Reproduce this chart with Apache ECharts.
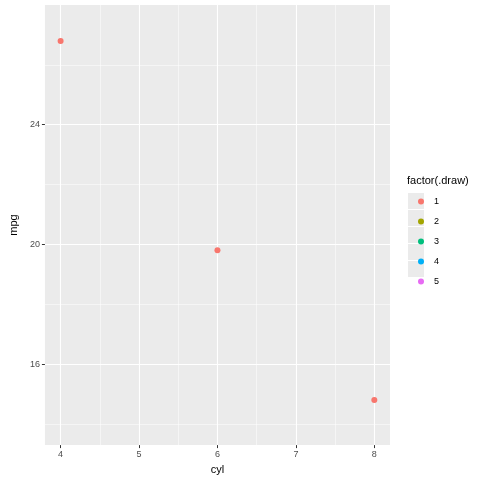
<!DOCTYPE html>
<html><head><meta charset="utf-8">
<script src="https://cdn.jsdelivr.net/npm/echarts@6/dist/echarts.min.js"></script>
<style>html,body{margin:0;background:#fff}#c{width:480px;height:480px}</style>
</head><body><div id="c"></div>
<script>
var cyl = [4, 6, 8];
var mpg = [26.8, 19.8, 14.8];
var draws = ['1', '2', '3', '4', '5'];
var colors = ['#F8766D', '#A3A500', '#00BF7D', '#00B0F6', '#E76BF3'];
var xTicks = [4, 5, 6, 7, 8];
var xMinor = [4.5, 5.5, 6.5, 7.5];
var yTicks = [16, 20, 24];
var yMinor = [14, 18, 22, 26];

var myChart = echarts.init(document.getElementById('c'));
var series = [];
for (var i = 0; i < draws.length; i++) {
    var d = [];
    if (i == 0) {
        for (var k = 0; k < cyl.length; k++) d.push([cyl[k], mpg[k]]);
    }
    series.push({name: draws[i], type: 'scatter', data: d, symbolSize: 6,
        itemStyle: {color: colors[i], opacity: 1}, xAxisIndex: 1, yAxisIndex: 1});
}
var keys = [];
for (var j = 0; j < draws.length; j++) {
    keys.push({type: 'rect', left: 408, top: 193 + j * 17,
        shape: {width: 16, height: 16}, style: {fill: '#EBEBEB'}, z: 0});
}
keys.push({type: 'text', left: 407, top: 175,
    style: {text: 'factor(.draw)', fontSize: 11, fill: '#000', fontFamily: 'Liberation Sans'}});

function xAx(vals, w, show) {
    return {type: 'value', min: 3.8, max: 8.2, gridIndex: 0, position: 'bottom',
        axisLine: {show: false},
        axisTick: {show: show, length: 3, lineStyle: {color: '#333'}, customValues: vals},
        axisLabel: {show: show, color: '#4d4d4d', fontSize: 9, customValues: vals, margin: 5},
        splitLine: {show: true, lineStyle: {color: '#fff', width: w}},
        name: show ? 'cyl' : '', nameLocation: 'middle', nameGap: 18,
        nameTextStyle: {fontSize: 11, color: '#000'}};
}
function yAx(vals, w, show) {
    return {type: 'value', min: 13.29, max: 28, gridIndex: 0, position: 'left',
        axisLine: {show: false},
        axisTick: {show: show, length: 3, lineStyle: {color: '#333'}, customValues: vals},
        axisLabel: {show: show, color: '#4d4d4d', fontSize: 9, customValues: vals, margin: 5},
        splitLine: {show: true, lineStyle: {color: '#fff', width: w}},
        name: show ? 'mpg' : '', nameLocation: 'middle', nameGap: 22,
        nameTextStyle: {fontSize: 11, color: '#000'}};
}

var option = {
    animation: false,
    textStyle: {fontFamily: 'Liberation Sans'},
    grid: {left: 33, right: 90, top: 5, bottom: 30, show: true,
        backgroundColor: '#EBEBEB', borderWidth: 0},
    xAxis: [xAx(xMinor, 0.5, false), xAx(xTicks, 1.1, true)],
    yAxis: [yAx(yMinor, 0.5, false), yAx(yTicks, 1.1, true)],
    legend: {orient: 'vertical', left: 413, top: 192, itemWidth: 6, itemHeight: 6,
        itemGap: 11, icon: 'circle', data: draws,
        textStyle: {fontSize: 9, color: '#000', padding: [0, 0, 0, 5]}},
    graphic: keys,
    series: series
};
myChart.setOption(option);
</script></body></html>
